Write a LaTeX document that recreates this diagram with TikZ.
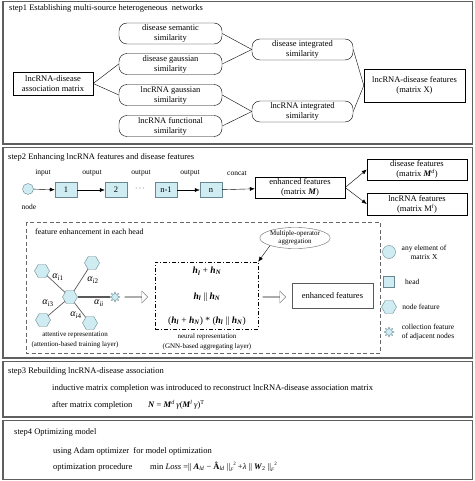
\documentclass[tikz,border=0pt]{standalone}
\usepackage{fontspec}
\setmainfont{Liberation Serif}
\usetikzlibrary{shapes.geometric,shapes.arrows,arrows.meta}
\definecolor{lb}{RGB}{207,236,242}
\definecolor{lbd}{RGB}{105,135,145}
\definecolor{framec}{RGB}{95,95,95}
\newcommand{\bi}[1]{\textbf{\textit{#1}}}
\newcommand{\normsq}{\raisebox{-2.5pt}{\fontsize{5}{5}\selectfont\textit{F}}\raisebox{4pt}{\fontsize{5}{5}\selectfont 2}}
\begin{document}
\begin{tikzpicture}[x=1pt,y=-1pt,font=\fontsize{8.5}{10}\selectfont,
  frameline/.style={draw=framec,line width=1.8pt},
  rbox/.style={draw,rounded corners=8pt,minimum width=103pt,minimum height=21pt,inner sep=0pt,align=center},
  sbox/.style={draw,inner sep=0pt,align=center},
  headbox/.style={draw=lbd,fill=lb,minimum width=22pt,minimum height=15pt,inner sep=0pt},
  hexn/.style={regular polygon,regular polygon sides=6,draw=lbd,fill=lb,minimum size=15pt,inner sep=0pt},
  elem/.style={circle,draw=lbd,fill=lb,minimum size=11pt,inner sep=0pt},
  starn/.style={star,star points=8,star point ratio=1.8,draw=lbd,fill=lb,minimum size=10pt,inner sep=0pt},
  lbl/.style={font=\fontsize{7.5}{9}\selectfont,inner sep=0pt,align=center},
  alab/.style={inner sep=0pt,font=\fontsize{10}{11}\selectfont},
  arr/.style={-{Latex[length=5pt,width=4pt]}},
  hollow/.style={single arrow,draw=gray,fill=white,minimum height=23pt,minimum width=12pt,single arrow head extend=2.5pt,inner sep=0pt},
  txt/.style={inner sep=0pt,anchor=west}]
\useasboundingbox (0,0) rectangle (474,481);
% frames
\draw[frameline] (3,1.5) rectangle (472.5,144);
\draw[frameline] (3,147.5) rectangle (472.5,358);
\draw[frameline] (3,361.5) rectangle (472.5,417);
\draw[frameline] (3,420.5) rectangle (472.5,479.5);

% step1
\node[txt] (t1) at (9,8) {step1 Establishing multi-source heterogeneous\ \ networks};
\node[sbox,minimum width=80pt,minimum height=23pt] (assoc) at (53,83.5) {lncRNA-disease\\association matrix};
\node[rbox] (ds) at (170.5,33.5) {disease semantic\\similarity};
\node[rbox] (dg) at (170.5,64) {disease gaussian\\similarity};
\node[rbox] (lg) at (170.5,95) {lncRNA gaussian\\similarity};
\node[rbox] (lf) at (170.5,126) {lncRNA functional\\similarity};
\node[rbox,minimum width=101pt] (di) at (302.5,49.5) {disease integrated\\similarity};
\node[rbox,minimum width=101pt] (li) at (302.5,111.5) {lncRNA integrated\\similarity};
\node[sbox,minimum width=101pt,minimum height=33pt] (feat) at (414.5,85.5) {lncRNA-disease features\\(matrix X)};
\draw (assoc.east) -- (dg.west);
\draw (assoc.east) -- (lg.west);
\draw (ds.east) -- (di.west);
\draw (dg.east) -- (di.west);
\draw (lg.east) -- (li.west);
\draw (lf.east) -- (li.west);
\draw (di.east) -- (feat.west);
\draw (li.east) -- (feat.west);

% step2
\node[txt] (t2) at (8,157) {step2 Enhancing lncRNA features and disease features};
\node[elem] (nd) at (28,189) {};
\node[headbox] (h1) at (66,190) {1};
\node[headbox] (h2) at (116,190) {2};
\node[inner sep=0pt] (dots) at (140,189) {$\cdots$};
\node[headbox] (hn1) at (166,190) {n-1};
\node[headbox] (hn) at (211,190) {n};
\node[sbox,minimum width=90pt,minimum height=21pt] (enh) at (300,187.5) {enhanced features\\(matrix \bi{M})};
\node[sbox,minimum width=100pt,minimum height=21pt] (dfeat) at (417,169.5) {disease features\\(matrix \bi{M}\textsuperscript{\textit{d}})};
\node[sbox,minimum width=100pt,minimum height=22pt] (lfeat) at (417,204) {lncRNA features\\(matrix M\textsuperscript{\textit{l}})};
\draw[arr] (nd) -- (h1);
\draw[arr] (h1) -- (h2);
\draw[arr] (hn1) -- (hn);
\draw[arr] (hn) -- (enh);
\coordinate (fork) at (enh.east);
\draw[arr] (fork) -- (dfeat.west);
\draw[arr] (fork) -- (lfeat.west);
\node[lbl] (l1) at (43,173) {input};
\node[lbl] (l2) at (92,173) {output};
\node[lbl] (l3) at (141,173) {output};
\node[lbl] (l4) at (190,173) {output};
\node[lbl] (l5) at (237,173) {concat};
\node[lbl] (l6) at (29,207) {node};

% feature enhancement box
\draw[dashed,dash pattern=on 4pt off 2.5pt,line width=0.8pt,draw=gray!80!black] (26,222) rectangle (380,353);
\node[txt,font=\fontsize{8}{10}\selectfont] (t2b) at (35,231.5) {feature enhancement in each head};

% star diagram
\node[hexn] (c) at (70,297) {};
\node[hexn] (a1) at (42,271) {};
\node[hexn] (a2) at (92,263) {};
\node[hexn] (a3) at (43,320) {};
\node[hexn] (a4) at (90,323) {};
\node[starn] (s) at (115,297) {};
\draw[gray!70!black,line width=0.7pt] (c) -- (a1);
\draw[gray!70!black,line width=0.7pt] (c) -- (a2);
\draw[gray!70!black,line width=0.7pt] (c) -- (a3);
\draw[gray!70!black,line width=0.7pt] (c) -- (a4);
\draw[gray!70!black,line width=1.2pt] (c) -- (s);
\node[alab] (al1) at (58,277) {\textit{α}\textsubscript{\textit{i}1}};
\node[alab] (al2) at (93,280) {\textit{α}\textsubscript{\textit{i}2}};
\node[alab] (al3) at (48,303) {\textit{α}\textsubscript{\textit{i}3}};
\node[alab] (al4) at (76,315) {\textit{α}\textsubscript{\textit{i}4}};
\node[alab] (al5) at (99,303) {\textit{α}\textsubscript{\textit{ii}}};
\node[lbl,font=\fontsize{7}{9.5}\selectfont] (att) at (75,340) {attentive representation\\(attention-based training layer)};
\node[hollow] (ha1) at (136,297) {};

% neural representation
\node[draw,dash pattern=on 4pt off 2pt on 1pt off 2pt,minimum width=103pt,minimum height=67pt,inner sep=0pt] (nr) at (206.5,295.5) {};
\node[inner sep=0pt,font=\fontsize{9.5}{11}\selectfont] (f1) at (207,271) {\bi{h}\textsubscript{\bi{l}} + \bi{h}\textsubscript{\bi{N}}};
\node[inner sep=0pt,font=\fontsize{9.5}{11}\selectfont] (f2) at (207,297) {\bi{h}\textsubscript{\bi{l}} || \bi{h}\textsubscript{\bi{N}}};
\node[inner sep=0pt,font=\fontsize{9.5}{11}\selectfont] (f3) at (207,321) {(\bi{h}\textsubscript{\bi{l}} + \bi{h}\textsubscript{\bi{N}}) * (\bi{h}\textsubscript{\bi{l}} || \bi{h}\textsubscript{\bi{N}})};
\node[lbl,font=\fontsize{7}{9.5}\selectfont] (neur) at (207,342) {neural representation\\(GNN-based aggregating layer)};
\node[ellipse,draw=gray!80!black,minimum width=56pt,minimum height=20pt,inner sep=0pt,align=center,font=\fontsize{7}{8.5}\selectfont] (mo) at (295,238) {Multiple-operator\\aggregation};
\draw[arr] (mo.south west) -- (nr.north east);
\node[hollow] (ha2) at (274,297) {};
\node[sbox,draw=gray!70!black,minimum width=81pt,minimum height=25pt] (ef2) at (332.5,295.5) {enhanced features};

% legend
\node[elem,minimum size=13pt] (lg1) at (389,252) {};
\node[lbl] (lt1) at (424,252) {any element of\\matrix X};
\node[headbox,minimum width=11pt,minimum height=11pt] (lg2) at (389,282) {};
\node[lbl,anchor=west] (lt2) at (405,282) {head};
\node[hexn] (lg3) at (389,307) {};
\node[lbl] (lt3) at (421,307) {node feature};
\node[starn] (lg4) at (389,332) {};
\node[lbl] (lt4) at (428,332) {collection feature\\of adjacent nodes};

% step3
\node[txt] (t3) at (8,371) {step3 Rebuilding lncRNA-disease association};
\node[txt] (s3a) at (52,388) {inductive matrix completion was introduced to reconstruct lncRNA-disease association matrix};
\node[txt] (s3b) at (52,405) {after matrix completion};
\node[txt] (s3c) at (148,405) {\bi{N} = \bi{M}\textsuperscript{\textit{d}}\,\textit{γ}(\bi{M}\textsuperscript{\textit{l}}\,\textit{γ})\textsuperscript{T}};

% step4
\node[txt] (t4) at (14,432) {step4 Optimizing model};
\node[txt] (s4a) at (53,451) {using Adam optimizer\ \ for model optimization};
\node[txt] (s4b) at (53,467) {optimization procedure};
\node[txt] (s4c) at (150,467) {min \textit{Loss} =|| \bi{A}\textsubscript{\textit{ld}} − \textbf{Â}\textsubscript{\textit{ld}} ||\normsq\ +\textit{λ} || \bi{W}\textsubscript{2} ||\normsq};
\end{tikzpicture}
\end{document}
